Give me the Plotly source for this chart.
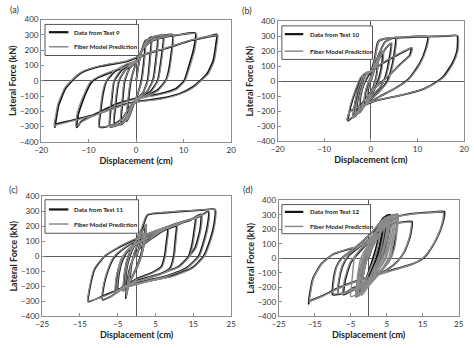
import plotly.graph_objects as go

# ---------------- data (displacement cm, lateral force kN) ----------------
test9 = [(0,0),(0.6,120),(1.3,210),(2.0,265),(1.7,150),(1.1,0),(0.3,-90),(-0.7,-170),(-1.4,-230),(-2.0,-265),(-1.7,-150),(-1.1,0),(-0.3,90),(0.6,160),
 (1.5,220),(2.3,265),(3.2,285),(2.9,150),(2.4,0),(1.4,-80),(0,-120),(-1,-180),(-2,-250),(-3.2,-288),(-2.9,-150),(-2.4,0),(-1.4,80),(0,125),
 (1,180),(2,250),(3,275),(4.5,292),(4.2,150),(3.5,0),(2.3,-70),(0.5,-115),(-1,-175),(-2,-245),(-3,-275),(-4.6,-295),(-4.3,-150),(-3.6,0),(-2.3,70),(0,125),
 (1,185),(2,255),(3.5,285),(5.7,297),(5.3,150),(4.5,0),(3,-70),(1,-110),(-1,-170),(-2.2,-245),(-3.5,-285),(-5.5,-300),(-5.2,-150),(-4.6,0),(-3,70),(0,130),
 (1,185),(2.2,255),(4,285),(7.7,302),(7.4,180),(6.8,60),(6.2,0),(4.5,-60),(2,-100),(0,-125),(-1.5,-180),(-3,-250),(-5,-290),(-7.7,-303),(-7.4,-180),(-6.8,-60),(-6.2,0),(-4.5,60),(-2,105),(0,130),
 (1.2,195),(3,255),(6,285),(9,300),(12.5,311),(12.2,220),(11.1,95),(10.1,0),(8.4,-50),(5,-85),(0,-115),(-3.9,-150),(-7.4,-200),(-11.5,-265),(-12.5,-305),(-12.2,-222),(-10.8,-95),(-9.4,-10),(-8.0,21),(-4.6,63),(-1.2,100),(0,125),
 (1.5,169),(6.3,212),(11.8,265),(15.2,290),(17,303),(16.8,240),(16.2,130),(15,50),(13.5,0),(11.8,-42),(9.1,-85),(5,-116),(0,-137),(-3.9,-169),(-8.7,-222),(-14.2,-264),(-17,-286),(-17.1,-303),
 (-16.8,-243),(-16.3,-159),(-14.9,-53),(-13.5,0),(-11.5,53),(-7.4,95),(-1.9,127),(1.5,169),(6.3,212),(11.8,265),(15.2,287),(16.8,295)]

model9 = [(0,0),(0.7,130),(1.4,215),(2.1,262),(1.8,140),(1.2,0),(0.2,-95),(-0.8,-175),(-1.5,-235),(-2.1,-262),(-1.8,-140),(-1.2,0),(-0.2,95),(0.7,165),
 (1.6,225),(2.4,268),(3.3,282),(3.0,140),(2.5,0),(1.3,-85),(-0.1,-125),(-1.1,-185),(-2.1,-255),(-3.3,-285),(-3.0,-140),(-2.5,0),(-1.3,85),(0.1,128),
 (1.1,188),(2.1,255),(3.1,278),(4.6,290),(4.3,140),(3.6,0),(2.2,-75),(0.4,-118),(-1.1,-180),(-2.1,-250),(-3.1,-280),(-4.7,-293),(-4.4,-140),(-3.7,0),(-2.2,75),(0.1,128),
 (1.1,190),(2.1,258),(3.6,288),(5.8,295),(5.4,140),(4.6,0),(3.1,-75),(0.9,-115),(-1.1,-175),(-2.3,-250),(-3.6,-288),(-5.6,-298),(-5.3,-140),(-4.7,0),(-3.1,75),(0.1,133),
 (1.1,190),(2.3,258),(4.1,288),(7.8,300),(7.5,170),(6.9,50),(6.3,0),(4.6,-65),(2.1,-105),(0.1,-128),(-1.6,-185),(-3.1,-255),(-5.1,-293),(-7.8,-300),(-7.5,-170),(-6.9,-50),(-6.3,0),(-4.6,65),(-2.1,108),(0.1,133),
 (1.3,198),(3.1,258),(6.1,288),(9.1,302),(12.7,308),(12.4,210),(11.3,90),(10.3,0),(8.6,-55),(5.1,-90),(0.1,-118),(-3.8,-155),(-7.3,-205),(-11.4,-268),(-12.7,-300),(-12.4,-210),(-11,-90),(-9.6,-5),(-8.1,25),(-4.7,68),(-1.3,103),(0.1,128),
 (1.6,172),(6.4,215),(11.9,268),(15.3,292),(17.2,300),(17,235),(16.4,125),(15.2,45),(13.7,0),(12,-45),(9.2,-88),(5.1,-120),(0.1,-140),(-3.8,-172),(-8.6,-225),(-14.1,-268),(-16.9,-290),(-17.3,-298),
 (-17,-238),(-16.5,-155),(-15.1,-50),(-13.7,0),(-11.6,56),(-7.5,98),(-2,130),(1.6,172),(6.4,215),(11.9,268),(15.4,290),(17,298)]

test10 = [(0,0),(0.8,80),(1.5,140),(1.2,40),(0.6,-30),(-0.3,-90),(-0.8,-130),(-0.5,-40),(0,20),
 (1,110),(2,170),(2.6,200),(2.2,80),(1.5,0),(0.5,-70),(-0.8,-130),(-1.5,-170),(-1.2,-80),(-0.4,0),(0.5,60),
 (2,160),(3.5,230),(4.3,250),(3.9,140),(3.0,20),(2,-40),(0.5,-90),(-1,-140),(-2,-190),(-2.5,-210),(-2.2,-100),(-1.5,-20),(-0.5,40),(0.5,90),
 (2,200),(3,260),(4.5,285),(5.3,290),(5.0,180),(4.2,60),(3.5,0),(2,-60),(0,-120),(-2,-180),(-3.5,-235),(-3.8,-241),(-3.3,-130),(-2.5,-30),(-1.5,40),(0,60),
 (2,110),(4.5,155),(7.3,200),(8.7,220),(8.3,170),(6.6,122),(3.8,36),(1.7,-20),(0,-70),(-1.5,-130),(-2.8,-190),(-3.2,-215),(-2.7,-100),(-2,-20),(-1,50),(0,65),
 (0.8,150),(1.5,260),(3,283),(7,292),(12.2,297),(11.8,220),(10.5,120),(8.5,30),(7.5,0),(5,-50),(2,-100),(0,-135),(-2,-175),(-3.5,-225),(-4.9,-263),
 (-4.6,-200),(-4,-130),(-3,-40),(-2.2,20),(-1,55),(0,65),(0.8,150),(1.7,270),(3,283),(8,292),(12.2,297),(16,300),(18.5,303),
 (18.5,207),(17.5,122),(15.7,36),(14.3,0),(11.5,-49),(6.6,-92),(1.7,-124),(-0.3,-145),(-2.5,-170),(-4.5,-200),(-5.1,-260)]

model10 = [(0,0),(0.9,90),(1.6,145),(1.3,45),(0.7,-25),(-0.2,-85),(-0.9,-135),(-0.6,-45),(0.1,25),
 (1.1,115),(2.1,175),(2.8,205),(2.4,85),(1.7,0),(0.6,-65),(-0.7,-125),(-1.6,-175),(-1.3,-85),(-0.5,0),(0.6,65),
 (2.1,165),(3.6,235),(4.5,255),(4.1,145),(3.2,25),(2.1,-35),(0.6,-85),(-0.9,-135),(-1.9,-185),(-2.6,-215),(-2.3,-105),(-1.6,-25),(-0.6,45),(0.6,95),
 (2.1,205),(3.1,262),(4.6,287),(5.5,292),(5.2,185),(4.4,65),(3.7,0),(2.2,-55),(0.1,-115),(-1.9,-175),(-3.4,-230),(-3.9,-245),(-3.4,-135),(-2.6,-35),(-1.6,35),(0.1,62),
 (2.1,115),(4.6,160),(7.4,205),(8.9,222),(8.5,172),(6.8,125),(3.9,38),(1.8,-18),(0.1,-68),(-1.4,-128),(-2.7,-188),(-3.3,-220),(-2.8,-105),(-2.1,-25),(-1.1,48),(0.1,66),
 (0.9,155),(1.6,262),(3.1,285),(7.1,294),(12.4,298),(12,222),(10.7,122),(8.7,32),(7.7,0),(5.1,-48),(2.1,-98),(0.1,-132),(-1.9,-172),(-3.4,-222),(-5,-258),
 (-4.7,-195),(-4.1,-125),(-3.1,-38),(-2.3,22),(-1.1,58),(0.1,68),(0.9,155),(1.8,272),(3.1,285),(8.1,294),(12.4,298),(16.1,301),(18.7,302),
 (18.7,205),(17.7,120),(15.9,35),(14.5,0),(11.7,-47),(6.8,-90),(1.8,-122),(-0.2,-143),(-2.4,-168),(-4.4,-198),(-5.2,-255)]

test11 = [(0,0),(1,90),(1.8,150),(1.4,40),(0.5,-50),(-0.8,-120),(-1.8,-170),(-1.4,-60),(-0.6,20),(0.5,100),(1.5,170),(2.2,200),(1.8,80),(1,0),(0,-70),(-1.5,-150),(-3,-210),
 (-2.6,-80),(-1.8,0),(-0.5,80),(1,150),(2.5,210),(2,90),(1.2,0),(0,-80),(-2,-170),(-3.5,-230),(-3.1,-100),(-2.2,0),(-1,70),(0.5,140),
 (1.5,190),(2.5,260),(3,278),(5,287),(8,292),(13,302),(17,308),(20.7,313),
 (20.5,216),(19.4,108),(17.7,0),(14.7,-76),(9.5,-130),(3.5,-162),(0,-184),(-4.2,-216),(-9.4,-270),(-12.8,-302),
 (-12.4,-216),(-11.1,-86),(-8.5,0),(-5.1,54),(-0.8,108),(3,150),(7.8,194),(12,230),(16.4,262),(19,300),
 (18.7,200),(17.5,80),(16.4,0),(13,-80),(8,-130),(3,-160),(-1,-185),(-4,-220),(-7,-270),(-9,-290),
 (-8.7,-200),(-7.5,-90),(-6,-10),(-4,40),(-1,90),(2,130),(6,170),(10,210),(14,240),(17,280),
 (16.8,180),(15.5,60),(13.8,0),(11,-70),(7,-110),(3,-140),(-1,-170),(-3.5,-200),(-5,-230),
 (-4.7,-120),(-3.8,-30),(-2.5,30),(0,80),(4,130),(7,170),(9,195),(10.5,210),(10.2,100),(9.8,0),(8.8,-80),(6,-120),(2,-150),(-2,-190),(-2.9,-281),
 (-2.6,-200),(-2,-100),(-1,-20),(1,60),(4,120),(7.5,180),(8.3,195),(7.9,100),(7.4,0),(6.5,-70),(4,-110),(0,-150),(-3,-200),(-5.5,-240),
 (-5.2,-130),(-4,-20),(-2,50),(1,100),(5,150),(10,200),(15.5,255),(15.2,170),(14.5,60),(13.8,0)]

model11 = [(0,0),(1.1,95),(1.9,155),(1.5,45),(0.6,-45),(-0.7,-115),(-1.9,-175),(-1.5,-65),(-0.7,15),(0.4,95),(1.6,175),(2.3,205),(1.9,85),(1.1,0),(0.1,-65),(-1.4,-145),(-3.1,-215),
 (-2.7,-85),(-1.9,0),(-0.6,75),(1.1,155),(2.6,215),(2.1,95),(1.3,0),(0.1,-75),(-1.9,-165),(-3.6,-235),(-3.2,-105),(-2.3,0),(-1.1,65),(0.4,135),
 (1.4,195),(2.4,265),(3.1,282),(5.1,290),(8.1,295),(13.1,304),(17.1,309),(20.9,311),
 (20.7,212),(19.6,104),(17.9,0),(14.9,-78),(9.6,-133),(3.6,-165),(0.1,-187),(-4.1,-219),(-9.3,-273),(-12.9,-298),
 (-12.5,-212),(-11.2,-82),(-8.6,0),(-5.2,56),(-0.9,110),(3.1,152),(7.9,196),(12.1,232),(16.5,265),(19.2,298),
 (18.9,196),(17.7,76),(16.6,0),(13.2,-82),(8.1,-132),(3.1,-162),(-0.9,-188),(-3.9,-223),(-6.9,-268),(-9.1,-286),
 (-8.8,-196),(-7.6,-86),(-6.1,-6),(-4.1,42),(-1.1,92),(2.1,132),(6.1,172),(10.1,212),(14.1,243),(17.2,277),
 (17,176),(15.7,56),(14,0),(11.2,-72),(7.1,-112),(3.1,-143),(-0.9,-172),(-3.4,-203),(-5.1,-226),
 (-4.8,-116),(-3.9,-26),(-2.6,32),(0.1,82),(4.1,132),(7.1,172),(9.1,197),(10.7,207),(10.4,96),(10,0),(9,-82),(6.1,-122),(2.1,-153),(-1.9,-193),(-2.8,-270),
 (-2.5,-195),(-1.9,-96),(-0.9,-16),(1.1,64),(4.1,124),(7.6,182),(8.5,192),(8.1,96),(7.6,0),(6.7,-72),(4.1,-113),(0.1,-152),(-2.9,-203),(-5.6,-236),
 (-5.3,-126),(-4.1,-16),(-2.1,54),(1.1,104),(5.1,154),(10.1,204),(15.7,252),(15.4,166),(14.7,56),(14,0)]

test12 = [(0,0),(1,80),(2,160),(3,230),(2.5,120),(1.2,0),(0,-90),(-1,-160),(-2,-220),(-1.5,-110),(-0.5,0),(0.8,100),(2,180),(3,240),(4,270),
 (3.5,150),(2.3,20),(1,-70),(-0.5,-150),(-1.5,-200),(-2.5,-240),(-2,-130),(-1,-20),(0.5,90),(2,190),(3.5,260),(4.5,285),
 (4,160),(2.8,30),(1.5,-60),(0,-140),(-1.5,-200),(-3,-255),(-2.4,-140),(-1.4,-30),(0,70),(1.5,170),(3,240),(5,295),
 (4.5,170),(3.3,40),(2,-50),(0.5,-130),(-1,-190),(-3,-260),(-2.5,-150),(-1.5,-40),(0,60),(1.8,180),(3.5,260),(5.5,300),
 (5,180),(3.8,50),(2.4,-40),(0.8,-120),(-1,-190),(-3.5,-265),(-3,-150),(-2,-40),(-0.5,60),(1.5,170),(4,270),(6,300),
 (5.6,180),(4.4,50),(3,-40),(1,-120),(-1,-180),(-4,-200),(-6,-230),(-8,-245),(-10,-250),
 (-9.8,-150),(-9,-60),(-7.5,0),(-5,50),(-2,110),(1,180),(3,240),(5,280),(7,298),(8,302),
 (7.7,200),(7,80),(6,0),(4,-70),(1,-130),(-2,-180),(-5,-220),(-7,-240),(-8.5,-245),
 (-8.2,-150),(-7.2,-50),(-5.5,20),(-3,70),(0,130),(3,195),(6,235),(9,248),(12,252),
 (11.5,150),(10,50),(8,-20),(5,-80),(2,-120),(0,-150),(-3,-200),(-6,-240),(-7,-250),
 (-6.5,-150),(-5,-30),(-2,60),(0,110),(3,171),(5.7,238),(7.5,282),(11.1,304),(16.5,316),(21,322),
 (20.5,238),(18.7,127),(16.5,38),(15.1,0),(12,-40),(7.5,-73),(3,-107),(0,-129),(-4.2,-162),(-8.7,-207),(-13.2,-262),(-16.4,-296),(-16.7,-313),
 (-16.4,-251),(-15.5,-140),(-13.2,-40),(-10,27),(-6,60),(-2.4,82),(0,104),(3,171),(5.7,238),(7.5,282),(11.1,304),(16.5,316),(20.8,320)]

model12 = [(0,0),(1.1,90),(2.1,170),(3.5,265),(3.2,180),(2.3,60),(1.6,0),(0.5,-70),(-0.8,-150),(-1.6,-205),(-2.2,-235),(-1.9,-150),(-1.2,-50),(-0.5,0),(0.8,80),(2,170),
 (3,230),(4.6,282),(4.3,190),(3.4,70),(2.6,0),(1.2,-80),(-0.3,-160),(-1.6,-220),(-2.7,-248),(-2.4,-160),(-1.8,-60),(-1.2,0),(0.3,80),(2,180),(3.5,250),
 (5.6,292),(5.3,200),(4.4,80),(3.6,0),(2,-80),(0.3,-160),(-1.5,-225),(-3.1,-256),(-2.8,-170),(-2.2,-70),(-1.5,-10),(0,70),(2,170),(4,255),
 (6.6,298),(6.2,200),(5.3,80),(4.5,0),(3,-70),(1,-150),(-1.5,-225),(-3.6,-262),(-3.3,-170),(-2.8,-70),(-2.2,0),(-0.5,80),(1.5,170),(3.5,240),(5,280),
 (7.5,300),(7.1,200),(6.2,80),(5.5,0),(4,-60),(2,-130),(-0.5,-200),(-3,-245),(-5,-262),(-4.7,-170),(-4.3,-60),(-4,0),(-2.5,60),(0,120),(2.5,190),(4.5,250),(6.5,290),
 (8,302),(7.6,200),(6.7,90),(6,0),(4.5,-55),(2.5,-120),(0,-190),(-2,-255),(-1.8,-170),(-1.2,-80),(-0.5,-10),(1,70),(3,160),(5,240),(6.5,285),
 (7,296),(6.6,190),(5.6,70),(4.8,0),(3.3,-60),(1.3,-130),(-0.5,-190),(-2.8,-262),(-2.5,-170),(-1.8,-70),(-1,0),(0.5,70),(2.5,160),(4.5,240),
 (6,295),(5.6,190),(4.8,70),(4,0),(2.5,-70),(0.5,-150),(-1.5,-215),(-3.3,-265),(-3,-180),(-2.4,-80),(-1.8,-10),(-0.3,70),(1.8,165),(3.8,245),(5.2,285),
 (4.8,170),(3.6,40),(2.2,-50),(0.2,-140),(-1.2,-195),(-4.1,-205),(-6.1,-232),(-8.1,-242),(-9.8,-245),
 (-9.6,-145),(-8.8,-55),(-7.4,0),(-4.9,55),(-1.9,115),(1.1,185),(3.1,245),(5.1,283),(7.1,296),(8.2,300),
 (7.9,195),(7.2,75),(6.2,0),(4.1,-65),(1.1,-125),(-1.9,-175),(-4.9,-218),(-6.9,-238),(-8.6,-240),
 (-8.3,-145),(-7.3,-45),(-5.6,25),(-3.1,72),(0.1,133),(3.1,198),(6.1,238),(9.1,246),(11.8,248),
 (11.3,145),(9.8,45),(7.9,-25),(4.9,-85),(1.9,-125),(-0.1,-155),(-3.1,-205),(-6.1,-236),(-7.2,-245),
 (-6.7,-145),(-5.1,-25),(-2.1,65),(0.1,114),(3.1,176),(5.8,242),(7.6,285),(11.2,302),(16.6,314),(20.7,318),
 (20.3,232),(18.5,122),(16.3,34),(14.9,0),(11.8,-44),(7.4,-77),(2.9,-111),(-0.1,-133),(-4.3,-166),(-8.8,-211),(-13.3,-266),(-16.2,-294),(-16.5,-305),
 (-16.2,-246),(-15.3,-136),(-13,-36),(-9.8,31),(-5.8,64),(-2.3,86),(0.1,108),(3.1,175),(5.8,242)]

panel_names = ["Data from Test 9", "Data from Test 10", "Data from Test 11", "Data from Test 12"]
model_name = "Fiber Model Prediction"
panel_tags = ["(a)", "(b)", "(c)", "(d)"]
x_ranges = [[-20, 20], [-20, 20], [-25, 25], [-25, 25]]
x_ticks = [[-20, -10, 0, 10, 20], [-20, -10, 0, 10, 20],
           [-25, -15, -5, 5, 15, 25], [-25, -15, -5, 5, 15, 25]]
y_range = [-400, 400]
y_ticks = [-400, -300, -200, -100, 0, 100, 200, 300, 400]
x_title = "Displacement (cm)"
y_title = "Lateral Force (kN)"

# ---------------- layout constants (pixels) ----------------
W, H = 474, 348
areas = [(35, 230, 15, 141), (277.7, 469, 16.5, 140.5), (36, 230, 197, 320.5), (278.7, 463.5, 201, 320.7)]
# legend box: left, right, top, bottom, entry1 y, entry2 y, line x0, line x1, text x
legend_boxes = [(39, 135, 20, 52, 28, 43, 43, 63, 67),
                (282, 375, 21.5, 56, 30, 47.5, 285, 304, 309),
                (39, 135, 200.5, 235, 210.5, 225.5, 43, 63, 67),
                (282, 373, 205.5, 235.5, 213, 228, 285, 304, 309)]
tag_pos = [(1, 5), (239, 6), (0, 190), (240, 190)]
model_widths = [1.2, 1.2, 1.2, 1.4]

FONT = "Lato, 'Liberation Sans', sans-serif"
colors = {"test": "#141414", "model": "#8a8a8a"}
fig = go.Figure()
tests = [test9, test10, test11, test12]
models = [model9, model10, model11, model12]

for i in range(4):
    sfx = "" if i == 0 else str(i + 1)
    t = tests[i]
    m = models[i]
    fig.add_trace(go.Scatter(x=[p[0] for p in t], y=[p[1] for p in t], mode="lines",
                             line=dict(color=colors["test"], width=1.8, shape="spline", smoothing=0.5),
                             name=panel_names[i], xaxis="x" + sfx, yaxis="y" + sfx, showlegend=False))
    fig.add_trace(go.Scatter(x=[p[0] for p in m], y=[p[1] for p in m], mode="lines",
                             line=dict(color=colors["model"], width=model_widths[i], shape="spline", smoothing=0.5),
                             name=model_name, xaxis="x" + sfx, yaxis="y" + sfx, showlegend=False))

layout = dict(width=W, height=H, margin=dict(l=0, r=0, t=0, b=0),
              paper_bgcolor="white", plot_bgcolor="white",
              font=dict(family=FONT, size=8, color="#333"))
annotations = []
shapes = []
px = lambda v: v / W
py = lambda v: (H - v) / H
for i in range(4):
    sfx = "" if i == 0 else str(i + 1)
    l, r, t, b = areas[i]
    axcommon = dict(showline=True, mirror=True, linecolor="#8c8c8c", linewidth=1,
                    showgrid=False, zeroline=True, zerolinecolor="#5a5a5a", zerolinewidth=1,
                    ticks="inside", ticklen=3, tickcolor="#8c8c8c",
                    tickfont=dict(family=FONT, size=8, color="#333"))
    layout["xaxis" + sfx] = dict(axcommon, domain=[px(l), px(r)], range=x_ranges[i],
                                 tickvals=x_ticks[i], anchor="y" + sfx,
                                 title=dict(text=x_title, standoff=3,
                                            font=dict(family=FONT, size=9, color="#222", weight="bold")))
    layout["yaxis" + sfx] = dict(axcommon, domain=[py(b), py(t)], range=y_range,
                                 tickvals=y_ticks, anchor="x" + sfx,
                                 title=dict(text=y_title, standoff=1,
                                            font=dict(family=FONT, size=9, color="#222", weight="bold")))
    bl, br, bt, bb, e1, e2, lx0, lx1, tx = legend_boxes[i]
    shapes.append(dict(type="rect", xref="paper", yref="paper", x0=px(bl), x1=px(br), y0=py(bb), y1=py(bt),
                       line=dict(color="#555", width=1), fillcolor="white", layer="above"))
    for ey, key, wdt, label in [(e1, "test", 2.2, panel_names[i]), (e2, "model", 1.5, model_name)]:
        shapes.append(dict(type="line", xref="paper", yref="paper", x0=px(lx0), x1=px(lx1), y0=py(ey), y1=py(ey),
                           line=dict(color=colors[key], width=wdt), layer="above"))
        annotations.append(dict(text=label, x=px(tx), y=py(ey), xref="paper", yref="paper",
                                xanchor="left", yanchor="middle", showarrow=False,
                                font=dict(family=FONT, size=6.2, color="#222", weight="bold")))
    tx_, ty_ = tag_pos[i]
    annotations.append(dict(text=panel_tags[i], x=px(tx_), y=py(ty_), xref="paper", yref="paper",
                            xanchor="left", yanchor="middle", showarrow=False,
                            font=dict(family=FONT, size=9, color="#333")))
layout["annotations"] = annotations
layout["shapes"] = shapes
fig.update_layout(**layout)
fig.write_html("out.html")
